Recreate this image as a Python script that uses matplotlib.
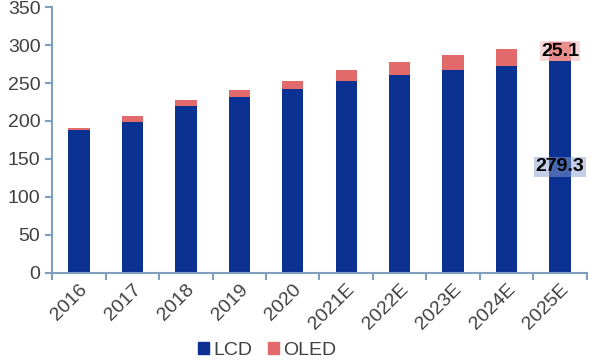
import matplotlib.pyplot as plt
from matplotlib.patches import Patch

years = ["2016", "2017", "2018", "2019", "2020", "2021E", "2022E", "2023E", "2024E", "2025E"]
lcd = [188, 199, 220, 232, 242, 253, 261, 267.5, 272, 279.3]
oled = [3, 7, 7, 9, 10, 14, 17, 19.5, 23, 25.1]
yticks = [0, 50, 100, 150, 200, 250, 300, 350]

blue = "#0b3192"
red = "#e26a6a"
spine = "#7f9fbf"
txt = "#404040"

plt.rcParams["font.family"] = ["Liberation Sans", "DejaVu Sans"]

fig = plt.figure(figsize=(6, 3.6), dpi=100)
ax = fig.add_axes([0.087, 0.243, 0.891, 0.737])

x = range(len(years))
ax.bar(x, lcd, width=0.4, color=blue)
ax.bar(x, oled, width=0.4, bottom=lcd, color=red)

# value labels on last bar
i = len(years) - 1
ax.text(i, lcd[i] / 2, f"{lcd[i]}", ha="center", va="center", fontsize=14,
        fontweight="bold", color="black",
        bbox=dict(facecolor="#8aa0d0", edgecolor="none", alpha=0.5, pad=1))
ax.text(i, lcd[i] + oled[i] / 2, f"{oled[i]}", ha="center", va="center", fontsize=14,
        fontweight="bold", color="black",
        bbox=dict(facecolor="#f0b0b0", edgecolor="none", alpha=0.5, pad=1))

ax.set_xlim(-0.5, len(years) - 0.5)
ax.set_ylim(0, 350)
ax.set_yticks(yticks)
ax.set_xticks(list(x))
ax.set_xticklabels(years, rotation=45, ha="right", rotation_mode="anchor")
ax.set_xticks([k - 0.5 for k in range(len(years) + 1)], minor=True)

for s in ["top", "right"]:
    ax.spines[s].set_visible(False)
for s in ["left", "bottom"]:
    ax.spines[s].set_color(spine)
    ax.spines[s].set_linewidth(1.5)

ax.tick_params(axis="x", which="major", length=0, labelsize=14, labelcolor=txt, pad=6)
ax.tick_params(axis="x", which="minor", length=5, width=1.5, color=spine)
ax.tick_params(axis="y", length=5, width=1.5, color=spine, labelsize=14, labelcolor=txt)

handles = [Patch(color=blue, label="LCD"), Patch(color=red, label="OLED")]
fig.legend(handles=handles, loc="lower center", bbox_to_anchor=(0.445, -0.045), ncol=2,
           frameon=False, fontsize=14, handlelength=0.6, handleheight=0.6,
           handletextpad=0.2, columnspacing=0.8, labelcolor=txt)

fig.savefig("out.png", dpi=100)
